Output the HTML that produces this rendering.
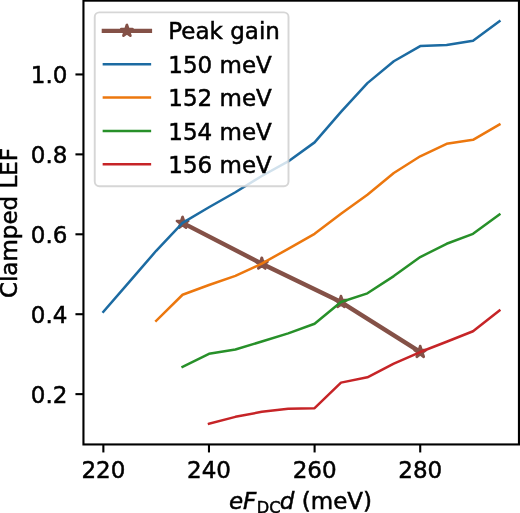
<!DOCTYPE html>
<html><head><meta charset="utf-8"><style>
html,body{margin:0;padding:0;background:#fff;}
body{width:520px;height:513px;overflow:hidden;}
svg{display:block;}
text{font-family:"DejaVu Sans","Liberation Sans",sans-serif;fill:#000;stroke:#000;stroke-width:0.5px;}
</style></head><body>
<svg width="520" height="513" viewBox="0 0 520 513">
<rect width="520" height="513" fill="#fff"/>
<polyline points="182.57,222.85 261.79,263.69 341.00,302.05 420.22,352.02" fill="none" stroke="#845147" stroke-width="4.4" stroke-linejoin="round" stroke-linecap="square"/>
<polygon points="182.57,216.95 181.25,221.02 176.96,221.02 180.43,223.54 179.11,227.62 182.57,225.10 186.04,227.62 184.72,223.54 188.19,221.02 183.90,221.02" fill="#845147" stroke="#845147" stroke-width="2.7" stroke-linejoin="round"/>
<polygon points="261.79,257.79 260.47,261.87 256.18,261.87 259.65,264.39 258.32,268.46 261.79,265.94 265.26,268.46 263.93,264.39 267.40,261.87 263.11,261.87" fill="#845147" stroke="#845147" stroke-width="2.7" stroke-linejoin="round"/>
<polygon points="341.00,296.15 339.68,300.22 335.39,300.22 338.86,302.74 337.54,306.82 341.00,304.30 344.47,306.82 343.15,302.74 346.62,300.22 342.33,300.22" fill="#845147" stroke="#845147" stroke-width="2.7" stroke-linejoin="round"/>
<polygon points="420.22,346.12 418.90,350.19 414.61,350.19 418.08,352.71 416.75,356.79 420.22,354.27 423.69,356.79 422.36,352.71 425.83,350.19 421.54,350.19" fill="#845147" stroke="#845147" stroke-width="2.7" stroke-linejoin="round"/>
<polyline points="103.36,311.86 129.76,281.39 156.17,250.80 182.57,222.85 208.98,207.23 235.38,192.22 261.79,176.00 288.19,161.39 314.60,142.37 341.00,111.94 367.41,83.11 393.81,61.29 420.22,46.07 446.62,45.07 473.03,40.67 499.44,21.25" fill="none" stroke="#1c6ba2" stroke-width="2.5" stroke-linejoin="round" stroke-linecap="square"/>
<polyline points="156.17,320.83 182.57,294.76 208.98,285.03 235.38,275.86 261.79,263.69 288.19,248.79 314.60,233.82 341.00,213.80 367.41,194.82 393.81,172.96 420.22,156.26 446.62,143.85 473.03,139.81 499.44,124.47" fill="none" stroke="#ec770e" stroke-width="2.5" stroke-linejoin="round" stroke-linecap="square"/>
<polyline points="182.57,366.79 208.98,353.78 235.38,349.53 261.79,341.53 288.19,333.36 314.60,323.79 341.00,302.05 367.41,293.32 393.81,276.10 420.22,257.04 446.62,243.79 473.03,233.82 499.44,214.56" fill="none" stroke="#279029" stroke-width="2.5" stroke-linejoin="round" stroke-linecap="square"/>
<polyline points="208.98,423.77 235.38,416.84 261.79,411.84 288.19,408.83 314.60,408.15 341.00,382.61 367.41,377.32 393.81,363.63 420.22,352.02 446.62,341.77 473.03,331.28 499.44,310.54" fill="none" stroke="#c62427" stroke-width="2.5" stroke-linejoin="round" stroke-linecap="square"/>
<rect x="83.45" y="0.65" width="435.50000000000006" height="443.8" fill="none" stroke="#000" stroke-width="2.1" stroke-linejoin="miter"/>
<line x1="103.36" y1="444.45" x2="103.36" y2="452.45" stroke="#000" stroke-width="2.1"/>
<line x1="208.98" y1="444.45" x2="208.98" y2="452.45" stroke="#000" stroke-width="2.1"/>
<line x1="314.60" y1="444.45" x2="314.60" y2="452.45" stroke="#000" stroke-width="2.1"/>
<line x1="420.22" y1="444.45" x2="420.22" y2="452.45" stroke="#000" stroke-width="2.1"/>
<line x1="83.45" y1="394.13" x2="75.45" y2="394.13" stroke="#000" stroke-width="2.1"/>
<line x1="83.45" y1="314.21" x2="75.45" y2="314.21" stroke="#000" stroke-width="2.1"/>
<line x1="83.45" y1="234.29" x2="75.45" y2="234.29" stroke="#000" stroke-width="2.1"/>
<line x1="83.45" y1="154.37" x2="75.45" y2="154.37" stroke="#000" stroke-width="2.1"/>
<line x1="83.45" y1="74.45" x2="75.45" y2="74.45" stroke="#000" stroke-width="2.1"/>
<text x="103.36" y="478" font-family="DejaVu Sans" font-size="23" text-anchor="middle">220</text>
<text x="208.98" y="478" font-family="DejaVu Sans" font-size="23" text-anchor="middle">240</text>
<text x="314.60" y="478" font-family="DejaVu Sans" font-size="23" text-anchor="middle">260</text>
<text x="420.22" y="478" font-family="DejaVu Sans" font-size="23" text-anchor="middle">280</text>
<text x="67.4" y="403.03" font-family="DejaVu Sans" font-size="23" text-anchor="end">0.2</text>
<text x="67.4" y="323.11" font-family="DejaVu Sans" font-size="23" text-anchor="end">0.4</text>
<text x="67.4" y="243.19" font-family="DejaVu Sans" font-size="23" text-anchor="end">0.6</text>
<text x="67.4" y="163.27" font-family="DejaVu Sans" font-size="23" text-anchor="end">0.8</text>
<text x="67.4" y="83.35" font-family="DejaVu Sans" font-size="23" text-anchor="end">1.0</text>
<text transform="translate(17.3,223.0) rotate(-90)" font-family="DejaVu Sans" font-size="23" text-anchor="middle">Clamped LEF</text>
<text x="228.9" y="508.5" font-family="DejaVu Sans" font-size="23"><tspan font-style="italic">e</tspan><tspan font-style="italic">F</tspan><tspan font-size="16.2" dx="0.5" dy="4.6">DC</tspan><tspan font-style="italic" dx="-0.7" dy="-4.6">d</tspan> (meV)</text>
<rect x="94.75" y="12.4" width="193.75" height="173.79999999999998" rx="4.6" ry="4.6" fill="rgba(255,255,255,0.8)" stroke="rgba(204,204,204,0.8)" stroke-width="1.9"/>
<line x1="103.9" y1="30.85" x2="149.9" y2="30.85" stroke="#845147" stroke-width="4.4" stroke-linecap="square"/>
<polygon points="126.90,24.95 125.58,29.03 121.29,29.03 124.76,31.55 123.43,35.62 126.90,33.10 130.37,35.62 129.04,31.55 132.51,29.03 128.22,29.03" fill="#845147" stroke="#845147" stroke-width="2.7" stroke-linejoin="round"/>
<text x="168.3" y="39.45" font-family="DejaVu Sans" font-size="23">Peak gain</text>
<line x1="103.9" y1="64.20" x2="149.9" y2="64.20" stroke="#1c6ba2" stroke-width="2.5" stroke-linecap="square"/>
<text x="168.3" y="72.80" font-family="DejaVu Sans" font-size="23">150 meV</text>
<line x1="103.9" y1="97.55" x2="149.9" y2="97.55" stroke="#ec770e" stroke-width="2.5" stroke-linecap="square"/>
<text x="168.3" y="106.15" font-family="DejaVu Sans" font-size="23">152 meV</text>
<line x1="103.9" y1="130.90" x2="149.9" y2="130.90" stroke="#279029" stroke-width="2.5" stroke-linecap="square"/>
<text x="168.3" y="139.50" font-family="DejaVu Sans" font-size="23">154 meV</text>
<line x1="103.9" y1="164.25" x2="149.9" y2="164.25" stroke="#c62427" stroke-width="2.5" stroke-linecap="square"/>
<text x="168.3" y="172.85" font-family="DejaVu Sans" font-size="23">156 meV</text>
</svg>
</body></html>
